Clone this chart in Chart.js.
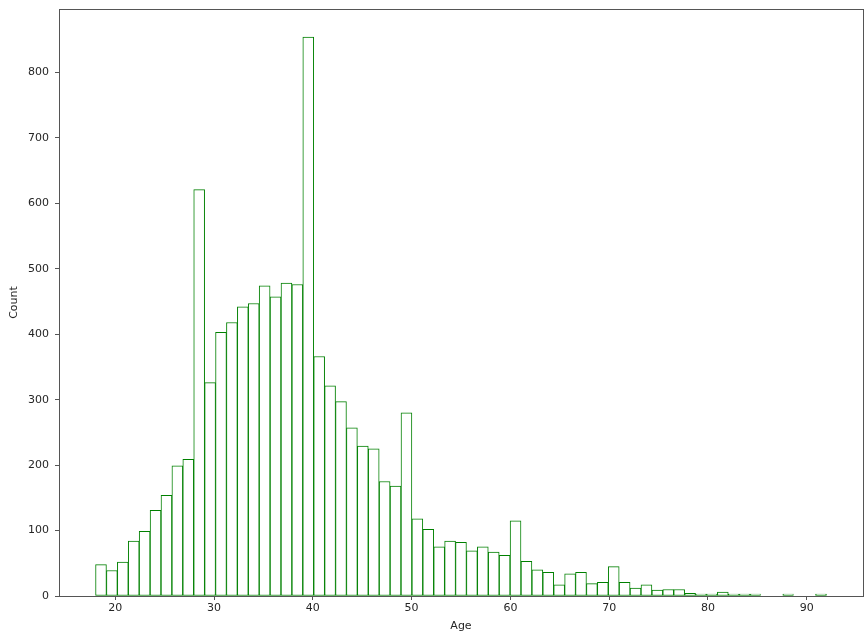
<!DOCTYPE html>
<html>
<head>
<meta charset="utf-8">
<script src="https://cdn.jsdelivr.net/npm/chart.js@4"></script>
<style>
  html, body { margin: 0; padding: 0; background: #fff; }
  #wrap { width: 868px; height: 639px; }
</style>
</head>
<body>
<div id="wrap"><canvas id="ageChart"></canvas></div>
<script>
// Age histogram: 67 bins from 18 to 92
const binStart = 18;
const binEnd = 92;
const counts = [
  48, 39, 52, 84, 99, 131, 154, 199, 209, 621,
  326, 403, 418, 442, 447, 474, 457, 478, 476, 854,
  366, 321, 297, 257, 229, 225, 175, 168, 280, 118,
  102, 75, 84, 82, 69, 75, 67, 62, 115, 53,
  40, 36, 17, 34, 36, 19, 21, 45, 21, 12,
  17, 9, 10, 10, 4, 3, 3, 6, 1, 1,
  1, 0, 0, 1, 0, 0, 1
];
const xTicks = [20, 30, 40, 50, 60, 70, 80, 90];
const yTicks = [0, 100, 200, 300, 400, 500, 600, 700, 800];

const binWidth = (binEnd - binStart) / counts.length;
const points = counts.map((c, i) => ({ x: binStart + (i + 0.5) * binWidth, y: c }));

const axisColor = '#555';
const textColor = '#262626';
const fontFamily = '"DejaVu Sans", sans-serif';

// frame around the plot area, like matplotlib spines
const framePlugin = {
  id: 'frame',
  afterDatasetsDraw(chart) {
    const { ctx, chartArea: a } = chart;
    ctx.save();
    ctx.strokeStyle = axisColor;
    ctx.lineWidth = 1;
    ctx.strokeRect(Math.round(a.left) + 0.5, Math.round(a.top) + 0.5,
      Math.round(a.right - a.left), Math.round(a.bottom - a.top));
    ctx.restore();
  }
};

const ctx = document.getElementById('ageChart').getContext('2d');
new Chart(ctx, {
  type: 'bar',
  data: {
    datasets: [{
      label: 'Count',
      data: points,
      backgroundColor: '#ffffff',
      borderColor: 'green',
      // empty bins leave no mark
      borderWidth: c => (c.raw && c.raw.y > 0 ? 1 : 0),
      borderSkipped: false,
      minBarLength: 2,
      barPercentage: 1,
      categoryPercentage: 1,
      grouped: false
    }]
  },
  options: {
    responsive: true,
    maintainAspectRatio: false,
    animation: false,
    layout: { padding: { top: 9, right: 5, left: 0, bottom: 0 } },
    plugins: {
      legend: { display: false },
      tooltip: { enabled: false }
    },
    scales: {
      x: {
        type: 'linear',
        min: binStart - (binEnd - binStart) * 0.05,
        max: binEnd + (binEnd - binStart) * 0.05,
        offset: false,
        border: { display: false },
        grid: { display: true, drawOnChartArea: false, drawTicks: true, tickLength: 4, color: axisColor, offset: false },
        afterBuildTicks: scale => { scale.ticks = xTicks.map(v => ({ value: v })); },
        afterFit: scale => { scale.height = 43; scale.paddingLeft = 0; scale.paddingRight = 0; },
        ticks: {
          color: textColor,
          padding: 2,
          maxRotation: 0,
          font: { family: fontFamily, size: 11 },
          callback: v => String(v)
        },
        title: {
          display: true,
          text: 'Age',
          color: textColor,
          font: { family: fontFamily, size: 11 },
          padding: { top: 0, bottom: 6 }
        }
      },
      y: {
        min: 0,
        max: 897,
        border: { display: false },
        grid: { display: true, drawOnChartArea: false, drawTicks: true, tickLength: 4, color: axisColor },
        afterBuildTicks: scale => { scale.ticks = yTicks.map(v => ({ value: v })); },
        afterFit: scale => { scale.width = 59; scale.paddingTop = 0; scale.paddingBottom = 0; },
        ticks: {
          color: textColor,
          padding: 6,
          font: { family: fontFamily, size: 11 },
          callback: v => String(v)
        },
        title: {
          display: true,
          text: 'Count',
          color: textColor,
          font: { family: fontFamily, size: 11 },
          padding: { top: 8, bottom: 0 }
        }
      }
    }
  },
  plugins: [framePlugin]
});
</script>
</body>
</html>
